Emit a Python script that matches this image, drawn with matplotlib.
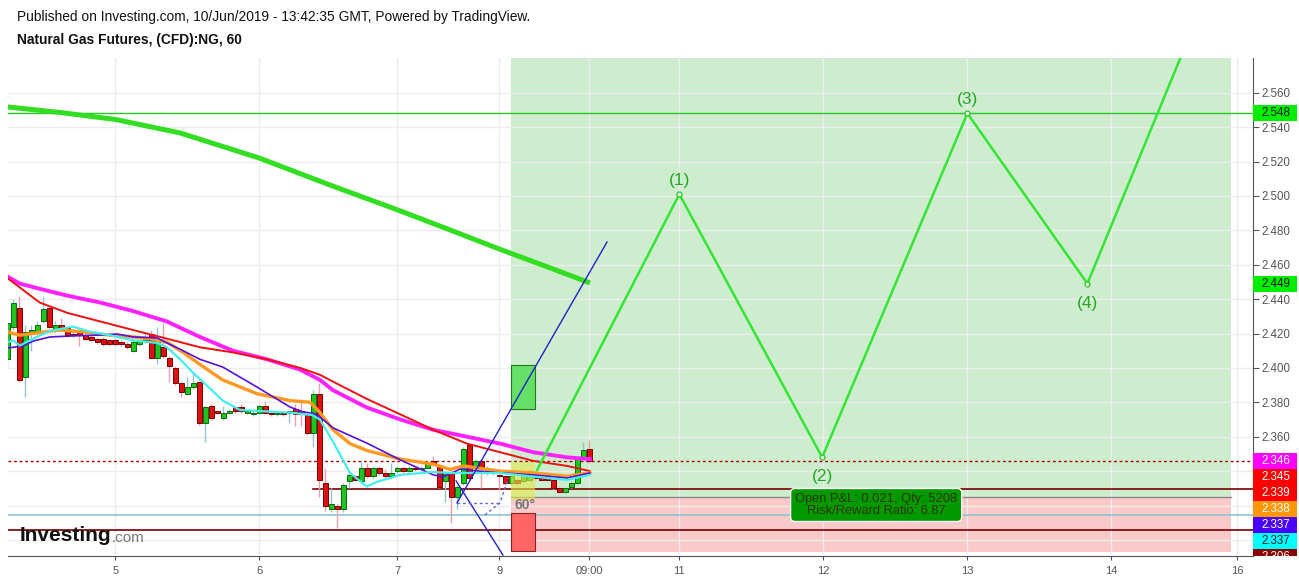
import matplotlib
matplotlib.use('Agg')
import matplotlib.pyplot as plt
from matplotlib.patches import Rectangle
import numpy as np

plt.rcParams['font.family'] = ['Liberation Sans', 'DejaVu Sans']

# NG 60 min candles, bar 0 .. 97 (last bar = 10 Jun 09:00)
opens = [2.405, 2.424, 2.435, 2.395, 2.421, 2.421, 2.427, 2.435, 2.422, 2.425,
         2.423, 2.420, 2.421, 2.419, 2.418, 2.417, 2.417, 2.416, 2.416, 2.415,
         2.414, 2.410, 2.414, 2.416, 2.420, 2.406, 2.412, 2.406, 2.400, 2.391,
         2.385, 2.389, 2.392, 2.368, 2.378, 2.3745, 2.371, 2.374, 2.377, 2.377,
         2.374, 2.373, 2.374, 2.378, 2.374, 2.373, 2.374, 2.374, 2.376, 2.375,
         2.373, 2.362, 2.385, 2.333, 2.318, 2.320, 2.318, 2.334, 2.337, 2.334,
         2.342, 2.337, 2.342, 2.339, 2.337, 2.340, 2.342, 2.340, 2.342, 2.341,
         2.342, 2.346, 2.343, 2.334, 2.339, 2.325, 2.333, 2.355, 2.342, 2.346,
         2.340, 2.340, 2.338, 2.337, 2.333, 2.335, 2.334, 2.335, 2.337, 2.336,
         2.337, 2.335, 2.330, 2.328, 2.331, 2.333, 2.348, 2.353]
highs = [2.428, 2.440, 2.442, 2.425, 2.425, 2.427, 2.442, 2.436, 2.427, 2.429,
         2.424, 2.421, 2.421, 2.420, 2.419, 2.418, 2.418, 2.417, 2.417, 2.416,
         2.415, 2.416, 2.417, 2.421, 2.422, 2.424, 2.426, 2.407, 2.401, 2.392,
         2.395, 2.397, 2.393, 2.378, 2.379, 2.375, 2.378, 2.376, 2.378, 2.379,
         2.375, 2.375, 2.379, 2.381, 2.375, 2.375, 2.375, 2.375, 2.379, 2.382,
         2.374, 2.387, 2.391, 2.342, 2.330, 2.321, 2.333, 2.340, 2.338, 2.346,
         2.345, 2.343, 2.343, 2.341, 2.345, 2.343, 2.343, 2.343, 2.343, 2.343,
         2.345, 2.349, 2.344, 2.340, 2.340, 2.332, 2.354, 2.356, 2.347, 2.347,
         2.343, 2.342, 2.339, 2.338, 2.338, 2.336, 2.339, 2.341, 2.338, 2.337,
         2.338, 2.336, 2.331, 2.331, 2.334, 2.349, 2.357, 2.358]
lows = [2.400, 2.422, 2.392, 2.383, 2.410, 2.420, 2.426, 2.423, 2.421, 2.422,
        2.418, 2.418, 2.413, 2.416, 2.415, 2.414, 2.413, 2.413, 2.413, 2.413,
        2.411, 2.409, 2.413, 2.415, 2.405, 2.402, 2.406, 2.392, 2.390, 2.383,
        2.384, 2.388, 2.367, 2.357, 2.370, 2.373, 2.370, 2.373, 2.374, 2.374,
        2.373, 2.372, 2.373, 2.373, 2.372, 2.372, 2.372, 2.368, 2.366, 2.366,
        2.361, 2.354, 2.325, 2.317, 2.316, 2.307, 2.316, 2.330, 2.334, 2.333,
        2.336, 2.336, 2.338, 2.336, 2.336, 2.339, 2.339, 2.339, 2.340, 2.340,
        2.341, 2.343, 2.330, 2.322, 2.310, 2.318, 2.332, 2.335, 2.341, 2.330,
        2.338, 2.338, 2.329, 2.332, 2.332, 2.332, 2.333, 2.334, 2.335, 2.334,
        2.334, 2.329, 2.327, 2.327, 2.330, 2.332, 2.347, 2.345]
closes = [2.426, 2.438, 2.393, 2.421, 2.422, 2.425, 2.434, 2.424, 2.425, 2.423,
          2.419, 2.419, 2.419, 2.417, 2.416, 2.415, 2.414, 2.414, 2.414, 2.414,
          2.412, 2.415, 2.416, 2.418, 2.406, 2.416, 2.407, 2.401, 2.391, 2.386,
          2.389, 2.391, 2.368, 2.377, 2.371, 2.374, 2.374, 2.375, 2.375, 2.375,
          2.374, 2.374, 2.378, 2.374, 2.373, 2.374, 2.373, 2.374, 2.373, 2.373,
          2.362, 2.385, 2.335, 2.320, 2.321, 2.318, 2.332, 2.338, 2.335, 2.342,
          2.337, 2.342, 2.339, 2.337, 2.339, 2.342, 2.340, 2.342, 2.341, 2.342,
          2.344, 2.344, 2.331, 2.339, 2.325, 2.331, 2.353, 2.336, 2.346, 2.342,
          2.3405, 2.3405, 2.337, 2.333, 2.337, 2.333, 2.338, 2.340, 2.336, 2.335,
          2.335, 2.330, 2.328, 2.330, 2.333, 2.348, 2.352, 2.346]

# moving averages (bar position, price)
magenta_x = [0.1, 2.1, 5.4, 10, 15.5, 21, 26.6, 32.1, 37.6, 43.3, 48.8, 52.1, 54.3,
             59.9, 65.5, 71, 76.6, 82.1, 87.6, 93.3, 97.1]
magenta_y = [2.453, 2.449, 2.446, 2.442, 2.438, 2.433, 2.427, 2.418, 2.410, 2.405,
             2.399, 2.393, 2.387, 2.377, 2.370, 2.364, 2.360, 2.356, 2.351, 2.348, 2.347]
red_x = [0.1, 5.4, 10, 15.5, 21, 26.6, 32.1, 37.6, 43.3, 48.8, 52.1, 54.3, 59.9,
         65.5, 71, 76.6, 82.1, 87.6, 93.3, 97.1]
red_y = [2.452, 2.438, 2.432, 2.427, 2.422, 2.417, 2.412, 2.409, 2.405, 2.400,
         2.396, 2.392, 2.382, 2.373, 2.364, 2.356, 2.351, 2.346, 2.343, 2.340]
orange_x = [0.1, 1, 2.1, 4.3, 8.5, 12.6, 17.1, 21, 23.8, 26.6, 29.3, 32.1, 35.9,
            41.6, 47.1, 50.5, 52.1, 54.3, 57.1, 59.9, 65.5, 71, 73.8, 76, 82.1,
            87.6, 93.3, 97.1]
orange_y = [2.421, 2.420, 2.419, 2.420, 2.422, 2.421, 2.419, 2.418, 2.417, 2.415,
            2.409, 2.402, 2.393, 2.385, 2.381, 2.380, 2.374, 2.364, 2.356, 2.352,
            2.347, 2.344, 2.341, 2.343, 2.340, 2.339, 2.337, 2.339]
cyan_x = [0.1, 1, 2.1, 4.3, 7.1, 11, 13.8, 17.1, 21, 25, 26.6, 28.8, 31, 33.8,
          35.9, 38.8, 47.1, 50.8, 52.1, 54.3, 57.1, 59.9, 61.6, 65.5, 71, 73.8,
          82.1, 87.6, 93.3, 97.1]
cyan_y = [2.415, 2.416, 2.413, 2.417, 2.4215, 2.424, 2.421, 2.419, 2.416, 2.4145,
          2.412, 2.405, 2.397, 2.388, 2.381, 2.3755, 2.374, 2.3726, 2.370, 2.357,
          2.339, 2.331, 2.3337, 2.3378, 2.3395, 2.3389, 2.3389, 2.3368, 2.3349, 2.3378]
purple_x = [0.1, 2.6, 4.3, 7.1, 11, 15.5, 18.3, 21, 25, 26.6, 29.3, 32.1, 35.9,
            41.6, 47.1, 49.3, 51, 52.1, 54.3, 59.9, 65.5, 71, 72.6, 75.5, 80,
            87.6, 93.3, 97.1]
purple_y = [2.4116, 2.4127, 2.4156, 2.418, 2.4186, 2.4191, 2.4197, 2.418, 2.4174,
            2.4145, 2.410, 2.405, 2.4005, 2.3889, 2.3773, 2.3744, 2.3736, 2.3715,
            2.3651, 2.3563, 2.3465, 2.3378, 2.3366, 2.3412, 2.3395, 2.3378, 2.336, 2.3389]
ma200_x = [0.1, 8.8, 18.1, 28.8, 42, 53.8, 65.1, 73.8, 82, 90.5, 97.1]
ma200_y = [2.5517, 2.5485, 2.5444, 2.5366, 2.5220, 2.5063, 2.4918, 2.4802, 2.4691,
           2.4581, 2.4494]

# projected wave (start, 1, 2, 3, 4, end)
wave_x = [88.3, 112, 135.8, 160, 180, 195.5]
wave_y = [2.3406, 2.501, 2.348, 2.548, 2.449, 2.5802]
wave_labels = ['(1)', '(2)', '(3)', '(4)']

# long position tool
pos_left, pos_right = 84, 204
pos_entry, pos_target, pos_stop = 2.3249, 2.5802, 2.2930
box_left, box_right = 84, 88
target_box = (2.3761, 2.4017)
entry_box = (2.3232, 2.3453)
stop_box = (2.2937, 2.3155)

# trend angle drawing
rise_x, rise_y = [74.95, 99.95], [2.3215, 2.4732]
fall_x, fall_y = [74.8, 82.6], [2.3343, 2.2912]
dot_h_x, dot_h_y = [74.95, 82.1], [2.3215, 2.3215]
dot_c_x, dot_c_y = [79.6, 82.1, 83.5], [2.3145, 2.3215, 2.3360]

# x axis
tick_pos = [18, 42, 65, 82, 97, 112, 136, 160, 184, 205]
tick_lab = ['5', '6', '7', '9', '09:00', '11', '12', '13', '14', '16']

# stacked price labels on the right
stack_labels = ['2.346', '2.345', '2.339', '2.338', '2.337', '2.337', '2.306']
stack_bg = ['#ff00ff', '#ff0000', '#ff0000', '#ff9800', '#4c00ff', '#00ffff', '#8b0000']
stack_fg = ['white', 'white', 'white', 'white', 'white', '#222222', 'white']

W, H = 1299, 580
fig = plt.figure(figsize=(W / 100, H / 100), dpi=100)
ax = fig.add_axes([8 / W, 24 / H, 1245 / W, 498 / H])
ylo, yhi = 2.29064, 2.58018
ax.set_xlim(0.12, 207.6)
ax.set_ylim(ylo, yhi)

# grid / axes look
ax.set_axisbelow(True)
ax.grid(True, color='#ededed', lw=1)
for s in ['top', 'left']:
    ax.spines[s].set_visible(False)
for s in ['bottom', 'right']:
    ax.spines[s].set_color('#555555')
ax.yaxis.tick_right()
ax.set_yticks(np.arange(2.30, 2.5601, 0.02))
# labels below 2.36 sit under the stacked price tags
ax.yaxis.set_major_formatter(plt.FuncFormatter(lambda v, p: '%.3f' % v if v > 2.355 else ''))
ax.tick_params(axis='y', length=4, color='#555555', labelcolor='#555555', labelsize=8.3, pad=2)
ax.set_xticks(tick_pos)
ax.set_xticklabels(tick_lab)
ax.tick_params(axis='x', length=3, color='#555555', labelcolor='#555555', labelsize=8, pad=4)

# position tool regions
ax.add_patch(Rectangle((pos_left, pos_entry), pos_right - pos_left, pos_target - pos_entry,
                       fc='#22aa22', alpha=0.22, lw=0, zorder=0.5))
ax.add_patch(Rectangle((pos_left, pos_stop), pos_right - pos_left, pos_entry - pos_stop,
                       fc='#f03030', alpha=0.26, lw=0, zorder=0.5))
ax.plot([pos_left, pos_right], [pos_entry, pos_entry], color='#8a8a8a', lw=1, zorder=1)

# horizontal levels
ax.axhline(2.548, color='#22cc22', lw=1, zorder=1)
ax.axhline(2.346, color='#aa0000', lw=1, ls=(0, (2, 2)), zorder=1)
ax.plot([51, 207.6], [2.3296, 2.3296], color='#7a0000', lw=1.2, zorder=1)
ax.axhline(2.3145, color='#8cc4d2', lw=1.2, zorder=1)
ax.axhline(2.3058, color='#7a0000', lw=1.2, zorder=1)

# candles
for i in range(len(opens)):
    o, h, l, c = opens[i], highs[i], lows[i], closes[i]
    up = c >= o
    ax.vlines(i, l, h, color='#97c3cf' if up else '#e6a3ab', lw=1, zorder=2)
    body = max(abs(c - o), 0.0008)
    ax.bar(i, body, bottom=min(o, c), width=0.8,
           color='#1ec51e' if up else '#dd1111',
           edgecolor='#0b6b0b' if up else '#7a0000', lw=0.7, zorder=3)

# moving averages
ax.plot(ma200_x, ma200_y, color='#33dd22', lw=3.6, solid_capstyle='butt', zorder=4)
ax.plot(magenta_x, magenta_y, color='#ff22ff', lw=2.8, zorder=4)
ax.plot(red_x, red_y, color='#ee1111', lw=1.4, zorder=4)
ax.plot(orange_x, orange_y, color='#ff9922', lw=2.4, zorder=4)
ax.plot(purple_x, purple_y, color='#5511dd', lw=1.2, zorder=4)
ax.plot(cyan_x, cyan_y, color='#44eeee', lw=1.6, zorder=4)

# small boxes of the position tool
ax.add_patch(Rectangle((box_left, target_box[0]), box_right - box_left,
                       target_box[1] - target_box[0], fc='#66e066', ec='#227722', lw=0.8, zorder=3))
ax.add_patch(Rectangle((box_left, entry_box[0]), box_right - box_left,
                       entry_box[1] - entry_box[0], fc='#e6e84a', alpha=0.6, lw=0, zorder=3))
ax.add_patch(Rectangle((box_left, stop_box[0]), box_right - box_left,
                       stop_box[1] - stop_box[0], fc='#ff6666', ec='#882222', lw=0.8, zorder=3))

# trend angle
ax.plot(rise_x, rise_y, color='#2222cc', lw=1, zorder=5)
ax.plot(fall_x, fall_y, color='#2222cc', lw=1, zorder=5)
ax.plot(dot_h_x, dot_h_y, color='#6666dd', lw=1, ls=(0, (2, 2)), zorder=5)
ax.plot(dot_c_x, dot_c_y, color='#6666dd', lw=1, ls=(0, (2, 2)), zorder=5)
ax.text(86.3, 2.3203, '60°', color='#777777', fontsize=10, fontweight='bold',
        ha='center', va='center', zorder=6)

# projected wave
ax.plot(wave_x, wave_y, color='#33e633', lw=1.8, zorder=5)
ax.plot(wave_x[1:5], wave_y[1:5], 'o', ms=3.5, mfc='white', mec='#33cc33', mew=1, zorder=6)
for k, lab in enumerate(wave_labels):
    peak = k % 2 == 0
    ax.annotate(lab, (wave_x[k + 1], wave_y[k + 1]), xytext=(0, 10 if peak else -14),
                textcoords='offset points', ha='center', va='center',
                fontsize=12.5, color='#22aa22', zorder=6)

# P&L box
ax.text(144.8, 2.3203, 'Open P&L: 0.021, Qty: 5208\nRisk/Reward Ratio: 6.87',
        ha='center', va='center', fontsize=9.3, color='#333300', linespacing=1.0, zorder=7,
        bbox=dict(boxstyle='round,pad=0.35', fc='#009900', ec='white', lw=1))

# right price labels
lab = fig.add_axes([1253 / W, 24 / H, 46 / W, 498 / H])
lab.set_xlim(0, 1)
lab.set_ylim(ylo, yhi)
lab.axis('off')
lab.patch.set_alpha(0)
box_h = 0.0093


def price_tag(p, txt, bg, fg):
    lab.add_patch(Rectangle((0, p - box_h / 2), 0.96, box_h, fc=bg, lw=0, clip_on=True))
    lab.text(0.5, p, txt, ha='center', va='center', color=fg, fontsize=8.3, clip_on=True)


price_tag(2.548, '2.548', '#00ee00', '#1a1a1a')
price_tag(2.449, '2.449', '#00ee00', '#1a1a1a')
for k, txt in enumerate(stack_labels):
    price_tag(2.346 - k * box_h, txt, stack_bg[k], stack_fg[k])

# header
fig.text(17 / W, 1 - 17 / H, 'Published on Investing.com, 10/Jun/2019 - 13:42:35 GMT, Powered by TradingView.',
         fontsize=9.9, va='center', color='#111111')
fig.text(17 / W, 1 - 40 / H, 'Natural Gas Futures, (CFD):NG, 60', fontsize=9.9,
         fontweight='bold', va='center', color='#111111')

# logo
logo = fig.text(20 / W, 1 - 541 / H, 'Investing', fontsize=15, fontweight='bold',
                color='#111111', va='baseline', zorder=10)
ax.annotate('.com', xy=(1, 0), xycoords=logo, xytext=(0, 0), textcoords='offset points',
            fontsize=11, color='#777777', va='bottom', annotation_clip=False, zorder=10)

fig.savefig('out.png', dpi=100)
